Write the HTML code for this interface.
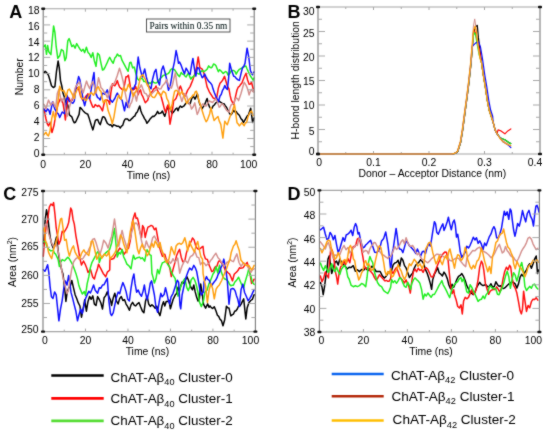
<!DOCTYPE html>
<html><head><meta charset="utf-8"><style>
html,body{margin:0;padding:0;background:#fff;}
body{width:550px;height:434px;overflow:hidden;font-family:"Liberation Sans", sans-serif;}
svg{display:block;}
</style></head><body>
<svg width="550" height="434" viewBox="0 0 550 434" font-family='"Liberation Sans", sans-serif'><defs><filter id="bl" x="0" y="0" width="550" height="434" filterUnits="userSpaceOnUse" color-interpolation-filters="sRGB"><feConvolveMatrix order="3" kernelMatrix="1 2 1 2 20 2 1 2 1" edgeMode="duplicate"/></filter></defs><g filter="url(#bl)"><rect width="550" height="434" fill="#fff"/><polyline points="43.9,73.0 45.2,71.3 46.8,72.9 48.5,75.4 50.1,80.7 51.5,85.7 53.3,87.5 54.9,86.6 56.5,71.3 58.1,61.0 59.3,67.9 60.5,80.6 61.8,86.0 63.0,93.0 64.2,96.7 65.4,101.9 67.8,105.0 69.4,114.9 71.8,116.8 73.0,120.3 74.3,122.8 75.5,122.3 76.7,119.7 79.1,114.4 80.0,107.4 81.6,108.9 83.2,110.9 84.8,112.6 86.5,113.7 87.7,113.9 88.9,117.4 91.3,125.2 92.9,129.9 95.3,120.7 96.5,119.7 97.7,119.5 99.0,122.9 100.2,124.7 102.6,117.0 103.8,116.8 105.0,118.1 106.2,120.9 107.4,123.5 109.8,125.1 111.0,124.8 112.3,126.8 113.5,124.7 114.7,125.1 117.1,126.2 118.7,126.3 120.3,127.9 121.5,126.1 122.7,125.4 124.0,121.2 125.2,119.0 127.6,119.1 128.8,120.4 130.0,120.6 131.2,119.2 132.4,118.2 133.6,116.6 134.8,116.1 136.1,113.1 137.3,112.0 139.7,106.0 140.9,111.0 142.1,114.0 143.3,116.2 144.5,118.6 145.7,120.2 146.9,123.3 148.6,121.3 150.3,118.7 152.7,116.2 153.9,116.6 155.2,115.2 156.4,113.7 157.6,111.3 158.8,113.6 160.0,113.3 161.2,112.8 162.4,111.0 163.6,114.0 164.8,116.3 166.1,111.6 167.3,108.3 169.7,107.7 170.9,110.4 172.1,113.5 173.3,112.3 174.5,110.6 175.7,108.8 176.9,108.0 178.0,110.7 179.2,107.6 180.4,106.0 181.6,107.2 182.8,106.7 184.1,105.9 185.3,104.0 187.7,101.6 188.9,103.5 190.1,104.0 191.3,99.7 192.5,97.0 193.8,96.9 195.0,99.1 196.2,96.7 197.4,93.9 198.6,99.7 199.8,104.2 202.2,108.6 203.4,106.5 204.7,104.6 205.9,101.4 207.1,98.5 208.3,103.4 209.5,106.9 210.7,108.5 211.9,108.5 213.1,105.9 214.3,105.0 215.6,103.1 216.8,102.2 219.2,101.1 220.4,102.2 221.6,102.9 222.8,104.0 224.0,103.7 225.2,105.7 226.5,107.2 227.7,109.9 228.9,112.4 230.1,114.2 231.3,114.6 233.7,110.4 234.9,111.9 236.2,111.4 237.4,113.6 238.6,114.3 239.8,116.2 241.0,118.7 242.2,119.9 243.4,122.5 244.7,120.4 245.9,118.3 247.1,116.2 248.3,115.2 250.7,108.3 252.6,122.4 254.0,118.0" fill="none" stroke="#000" stroke-width="1.5" stroke-linejoin="round" stroke-linecap="round" opacity="1"/><polyline points="43.9,109.0 46.0,119.0 47.2,123.6 48.5,125.9 50.1,122.2 52.0,132.6 54.1,125.0 55.7,114.9 58.1,103.9 60.5,98.5 61.8,100.6 63.0,103.3 64.2,110.6 65.4,119.9 67.0,104.8 68.6,97.6 69.8,99.9 71.0,101.8 72.2,100.0 73.5,95.6 74.7,92.7 75.9,88.7 78.3,87.3 79.5,92.1 80.7,96.7 83.1,100.7 84.3,99.0 85.5,96.8 86.8,95.3 88.0,93.8 89.2,97.2 90.4,101.1 92.8,107.1 94.0,107.2 95.2,104.6 97.6,106.5 98.8,105.4 100.1,106.7 101.3,108.7 102.5,110.9 103.7,105.2 104.9,100.2 107.3,100.0 108.5,101.1 109.7,104.3 110.8,93.1 112.4,83.8 114.8,85.8 116.0,83.9 117.3,80.6 118.5,84.4 119.7,87.2 122.1,89.4 123.5,89.6 124.8,83.7 126.0,76.7 127.2,76.8 128.4,75.2 129.6,82.2 130.8,89.6 133.2,89.9 134.4,89.1 135.6,86.5 136.8,89.9 138.1,94.8 139.3,91.4 140.5,89.9 141.7,94.7 142.9,96.7 144.1,99.7 145.3,102.7 147.7,100.3 148.7,96.8 149.9,94.7 151.1,92.3 152.3,91.8 153.5,89.0 154.8,88.3 156.0,86.0 157.2,89.9 158.4,92.3 159.6,93.7 160.8,95.3 163.2,104.3 164.4,109.1 165.6,112.6 166.8,107.6 168.1,104.7 170.0,124.2 172.1,112.9 173.7,100.4 174.9,99.9 176.1,98.2 178.0,93.0 179.2,88.9 180.4,86.0 181.6,89.2 182.8,93.9 184.1,94.0 185.3,95.9 187.7,90.1 188.9,88.4 190.1,86.6 191.3,83.6 192.5,80.7 194.5,74.8 196.6,67.5 198.2,56.9 199.8,67.5 202.2,69.1 203.8,72.9 205.5,79.4 207.1,86.9 208.3,89.5 209.5,92.1 210.7,94.0 211.9,95.8 213.1,97.9 214.3,98.7 215.6,98.3 216.8,97.1 218.4,87.9 220.0,83.3 221.2,81.9 222.4,80.6 224.5,76.3 226.5,83.2 227.7,86.9 228.9,88.7 230.1,95.4 231.3,100.2 233.7,104.6 235.4,97.2 237.0,90.0 238.2,87.2 239.4,86.3 240.6,84.3 241.8,83.3 244.0,77.5 246.0,73.2 247.6,80.0 249.1,84.3 250.3,84.1 251.5,82.2 253.5,90.0" fill="none" stroke="#ff1010" stroke-width="1.5" stroke-linejoin="round" stroke-linecap="round" opacity="1"/><polyline points="43.9,46.5 45.2,44.9 46.5,54.3 47.6,45.4 48.8,51.8 50.9,54.6 52.5,37.8 53.6,25.9 54.9,32.3 56.2,46.7 57.8,58.3 59.7,55.7 61.4,49.5 63.3,50.8 64.9,60.7 66.2,57.6 67.8,40.9 69.1,38.6 70.2,41.6 71.8,46.6 73.5,45.1 75.1,48.2 76.7,43.6 78.3,46.4 79.9,49.0 81.5,51.1 83.1,49.3 84.7,52.6 86.4,47.2 88.0,52.4 89.6,54.1 91.2,57.5 92.8,52.7 94.4,61.0 96.0,66.4 97.6,53.2 99.3,55.0 100.9,62.9 102.5,70.0 103.7,69.5 104.9,67.5 107.3,62.4 108.5,59.5 109.7,57.3 111.6,61.0 113.2,63.2 114.8,58.1 116.0,56.8 117.3,54.1 118.9,56.0 120.5,55.6 122.1,60.4 123.7,63.3 126.1,67.9 128.1,71.3 129.7,62.7 131.0,62.3 132.6,67.9 134.2,67.0 135.8,73.2 137.4,78.7 139.0,80.1 140.2,78.4 141.5,78.6 142.7,78.9 143.9,81.6 145.5,81.4 147.1,83.7 148.7,82.6 150.3,83.5 152.7,81.1 153.9,82.6 155.2,82.9 156.8,82.7 158.4,80.7 160.0,78.7 161.6,77.3 163.2,75.4 164.8,75.1 166.4,74.3 168.1,73.6 169.3,72.4 170.5,69.9 171.7,68.9 172.9,69.3 174.5,69.6 175.7,71.5 176.9,73.3 178.0,75.1 179.6,76.6 181.2,72.4 182.4,74.1 183.7,74.4 184.9,76.0 186.1,77.0 187.3,74.8 188.5,73.1 189.7,76.7 190.9,79.1 192.1,77.2 193.3,76.8 194.6,75.1 195.8,73.2 197.4,73.3 199.0,74.2 200.6,71.9 202.2,70.6 203.8,71.6 205.5,70.6 207.1,69.2 208.7,65.9 209.9,67.3 211.1,67.8 212.3,66.8 213.5,64.1 214.8,64.4 216.0,65.8 217.2,68.9 218.4,71.7 219.6,69.7 220.8,70.8 223.2,73.5 224.4,72.4 225.7,71.5 226.9,72.4 228.1,75.3 229.7,73.6 231.3,70.5 233.7,70.5 234.9,71.3 236.2,74.1 237.8,71.2 239.4,69.3 241.0,68.5 242.6,68.0 244.2,66.6 245.9,66.0 247.1,69.0 248.3,71.6 250.7,76.5 251.9,78.1 253.1,80.2 254.0,78.0" fill="none" stroke="#22ee22" stroke-width="1.5" stroke-linejoin="round" stroke-linecap="round" opacity="1"/><polyline points="43.9,109.0 46.0,111.6 47.6,109.0 48.9,110.3 50.1,114.3 52.5,101.9 54.9,109.2 57.3,113.2 58.5,114.2 59.7,117.5 61.0,114.7 62.2,112.0 64.6,113.7 65.8,104.4 67.0,95.3 68.2,99.4 69.4,101.3 71.8,102.7 73.0,103.2 74.3,101.2 75.9,88.4 77.5,81.8 78.6,76.6 79.9,79.8 81.5,89.0 83.1,99.8 84.7,105.7 86.0,100.2 87.2,95.6 89.6,98.7 91.2,89.7 92.8,78.6 94.0,72.5 95.2,91.6 97.6,97.6 98.8,98.1 100.1,100.0 101.3,96.5 102.5,93.2 103.7,93.4 104.9,94.3 107.3,89.9 108.5,94.1 109.7,99.1 111.0,100.6 112.4,102.2 114.8,98.5 116.0,95.7 117.3,93.1 118.5,95.2 119.7,97.7 122.1,100.2 123.3,105.7 124.5,110.8 126.1,102.3 127.7,107.4 129.4,98.7 131.0,90.5 132.2,88.1 133.4,89.0 134.6,86.2 135.8,83.8 136.8,70.6 138.2,57.1 139.8,67.5 141.1,72.5 142.3,77.0 144.7,69.0 146.3,76.9 148.7,85.9 151.0,88.8 152.5,79.5 154.4,72.2 156.0,69.4 157.6,80.2 159.5,85.0 161.6,70.0 163.2,66.0 164.8,71.8 166.5,78.6 168.5,90.3 170.5,84.2 171.7,77.3 172.9,68.9 174.5,61.6 176.1,50.6 177.4,56.6 178.5,63.3 179.6,62.1 181.2,65.4 182.8,69.9 184.5,73.9 186.1,68.1 187.7,70.8 188.9,73.5 190.1,74.5 191.7,64.4 192.9,58.4 194.2,67.3 195.8,76.1 197.4,67.6 199.0,68.3 200.6,73.8 202.2,77.7 203.4,76.6 204.7,74.0 205.9,76.6 207.1,78.8 208.7,81.4 210.3,82.8 211.9,84.9 213.1,89.1 214.3,92.4 215.6,95.7 216.8,98.4 218.4,101.8 220.0,96.0 221.2,94.5 222.4,90.7 223.6,88.7 224.8,85.5 226.1,88.3 227.3,89.5 228.5,79.7 229.7,63.3 231.3,69.4 233.7,76.2 234.9,76.6 236.2,78.4 237.8,79.7 239.4,80.4 241.0,73.7 242.6,67.3 243.8,66.4 245.0,63.4 247.1,48.2 248.8,57.3 250.4,70.5 252.3,74.8 254.0,72.0" fill="none" stroke="#1010ff" stroke-width="1.5" stroke-linejoin="round" stroke-linecap="round" opacity="1"/><polyline points="43.9,104.2 46.0,108.9 47.2,104.3 48.5,100.1 50.9,105.1 53.3,101.9 54.5,105.9 55.7,107.5 57.3,93.6 58.9,89.3 60.1,95.2 61.4,101.7 63.8,97.5 65.4,109.1 67.0,116.6 68.2,112.3 69.4,107.4 71.0,101.6 72.2,98.5 73.5,96.6 75.1,88.2 76.3,85.6 77.5,84.3 78.7,82.8 79.9,82.2 80.0,83.7 81.6,89.1 83.2,92.9 84.8,87.0 86.5,81.1 88.1,85.4 89.7,88.7 91.3,84.2 92.9,81.7 94.5,86.6 96.1,93.2 97.3,85.5 98.5,77.8 99.8,82.4 101.0,87.8 102.6,89.3 104.2,92.0 105.8,94.3 107.4,97.7 109.0,93.1 110.6,86.6 112.2,84.8 113.9,83.9 115.5,80.5 117.1,76.0 118.3,72.2 119.5,68.2 120.7,72.0 121.9,76.4 123.2,81.8 124.4,89.2 126.8,100.6 129.2,107.8 130.4,104.2 131.6,102.3 132.8,98.1 134.0,92.6 135.2,95.7 136.5,101.0 137.7,94.3 138.9,88.7 140.1,87.2 141.3,84.8 142.9,89.1 144.5,93.1 146.1,93.7 147.7,96.6 148.0,97.1 149.6,94.8 151.2,94.4 152.8,92.6 154.5,91.0 156.1,89.8 157.7,87.7 159.3,89.0 160.9,88.8 162.5,85.7 164.1,84.0 165.3,82.5 166.5,79.4 167.8,82.9 169.0,86.5 170.2,87.4 171.4,88.1 172.6,84.5 173.8,78.9 175.4,72.6 177.0,85.0 178.2,88.5 179.5,94.0 180.7,97.4 181.9,101.6 183.1,97.6 184.3,93.6 186.7,96.1 187.9,100.4 189.1,103.5 190.3,105.0 191.5,109.1 193.2,106.8 194.8,102.9 197.2,114.4 198.4,112.0 199.6,108.2 201.2,105.9 202.8,103.9 204.4,105.5 206.1,106.1 207.7,103.4 209.3,100.8 210.9,101.8 212.5,102.5 214.1,100.7 215.7,98.8 217.4,102.1 219.2,107.2 220.4,106.3 221.6,103.7 222.8,104.1 224.0,106.0 225.2,108.0 226.5,110.1 227.7,111.2 228.9,112.2 230.1,107.3 231.3,104.6 233.7,103.4 234.9,100.2 236.2,97.9 237.4,98.6 238.6,100.6 239.8,97.1 241.0,93.5 242.6,87.7 244.2,82.3 245.4,84.2 246.7,86.6 247.9,89.9 249.1,94.9 250.3,91.4 251.5,89.5 252.8,91.6 254.0,92.0" fill="none" stroke="#d4918f" stroke-width="1.5" stroke-linejoin="round" stroke-linecap="round" opacity="1"/><polyline points="43.9,134.8 46.0,132.3 47.2,134.9 48.5,135.9 50.1,130.8 51.7,118.6 53.3,111.6 54.9,119.5 56.5,113.2 58.1,100.3 59.7,86.2 61.4,90.7 63.8,90.5 65.0,93.3 66.2,97.0 67.8,90.2 69.4,89.1 71.8,93.4 73.0,95.9 74.3,98.5 75.5,93.6 76.7,90.5 79.1,86.3 80.3,93.0 81.5,97.8 82.7,98.8 83.9,98.4 85.2,99.9 86.4,100.5 88.8,95.1 90.0,94.1 91.2,92.4 93.6,95.3 94.8,92.4 96.0,90.4 97.2,87.5 98.5,86.9 99.8,90.4 101.0,91.3 102.2,98.3 103.4,102.8 105.8,99.7 107.0,104.8 108.2,110.8 110.6,117.3 112.3,123.7 113.9,117.1 116.3,102.7 117.5,98.4 118.7,94.9 121.1,99.5 122.3,92.3 123.5,87.5 124.8,88.8 126.0,91.0 127.2,88.1 128.4,84.3 129.6,86.7 130.8,88.2 133.2,96.4 134.4,93.8 135.6,91.7 136.8,89.9 138.1,87.8 139.3,82.5 140.5,76.6 141.7,75.6 142.9,74.7 144.1,77.3 145.3,79.2 147.7,86.1 148.0,84.7 149.6,90.4 151.2,95.7 152.8,97.3 154.5,97.6 156.1,95.0 157.7,92.0 159.3,94.1 160.9,96.3 162.1,93.4 163.3,91.2 165.7,93.2 166.9,98.6 168.2,100.8 169.4,105.6 170.6,110.2 172.2,103.9 173.4,96.8 174.6,91.3 175.8,90.4 177.0,90.6 178.2,92.1 179.5,95.1 180.7,93.3 181.9,91.3 183.1,94.2 184.3,96.8 186.7,103.6 187.9,101.5 189.1,99.3 190.3,98.2 191.5,97.3 192.8,95.1 194.0,95.3 195.2,91.9 196.4,91.2 197.6,94.7 198.8,100.3 201.2,107.4 202.4,111.5 203.6,115.3 204.8,118.7 206.1,121.7 207.3,120.3 208.5,116.9 209.7,113.7 210.9,107.3 212.5,114.6 214.1,120.5 216.1,118.3 218.0,116.5 219.2,120.9 220.8,124.4 222.9,138.1 224.8,121.2 226.1,123.1 227.3,124.7 229.7,117.6 230.9,114.5 232.1,112.1 233.3,108.3 234.5,104.7 235.8,113.8 237.0,122.7 238.2,124.0 239.4,125.9 240.6,124.4 241.8,122.8 244.2,125.7 245.4,122.8 246.7,122.5 247.9,117.0 249.1,114.3 250.3,111.8 251.5,111.0 253.1,115.5" fill="none" stroke="#ffa010" stroke-width="1.5" stroke-linejoin="round" stroke-linecap="round" opacity="1"/><path d="M43.2,8.7V154.7M254.2,8.7V154.7" stroke="#7a7a7a" stroke-width="1.1" fill="none"/><path d="M43.2,8.7H254.2M43.2,154.7H254.2" stroke="#a4a4a4" stroke-width="1.1" fill="none"/><rect x="41.2" y="7.499999999999999" width="4" height="2.4" rx="0.8" fill="#111"/><rect x="252.2" y="7.499999999999999" width="4" height="2.4" rx="0.8" fill="#111"/><rect x="41.2" y="153.5" width="4" height="2.4" rx="0.8" fill="#111"/><rect x="252.2" y="153.5" width="4" height="2.4" rx="0.8" fill="#111"/><path d="M85.40,154.7v-3M85.40,8.7v3M127.60,154.7v-3M127.60,8.7v3M169.80,154.7v-3M169.80,8.7v3M212.00,154.7v-3M212.00,8.7v3M64.30,154.7v-2M64.30,8.7v2M106.50,154.7v-2M106.50,8.7v2M148.70,154.7v-2M148.70,8.7v2M190.90,154.7v-2M190.90,8.7v2M233.10,154.7v-2M233.10,8.7v2M43.2,138.48h7M254.2,138.48h-7M43.2,122.26h7M254.2,122.26h-7M43.2,106.03h7M254.2,106.03h-7M43.2,89.81h7M254.2,89.81h-7M43.2,73.59h7M254.2,73.59h-7M43.2,57.37h7M254.2,57.37h-7M43.2,41.14h7M254.2,41.14h-7M43.2,24.92h7M254.2,24.92h-7M43.2,146.59h4M254.2,146.59h-4M43.2,130.37h4M254.2,130.37h-4M43.2,114.14h4M254.2,114.14h-4M43.2,97.92h4M254.2,97.92h-4M43.2,81.70h4M254.2,81.70h-4M43.2,65.48h4M254.2,65.48h-4M43.2,49.26h4M254.2,49.26h-4M43.2,33.03h4M254.2,33.03h-4M43.2,16.81h4M254.2,16.81h-4" stroke="#a8a8a8" stroke-width="1" fill="none"/><text x="39.50" y="156.80" font-size="10.4" text-anchor="end" font-weight="normal" fill="#000" stroke="#000" stroke-width="0" >0</text><text x="39.50" y="140.90" font-size="10.4" text-anchor="end" font-weight="normal" fill="#000" stroke="#000" stroke-width="0" >2</text><text x="39.50" y="125.00" font-size="10.4" text-anchor="end" font-weight="normal" fill="#000" stroke="#000" stroke-width="0" >4</text><text x="39.50" y="109.10" font-size="10.4" text-anchor="end" font-weight="normal" fill="#000" stroke="#000" stroke-width="0" >6</text><text x="39.50" y="93.20" font-size="10.4" text-anchor="end" font-weight="normal" fill="#000" stroke="#000" stroke-width="0" >8</text><text x="39.50" y="77.30" font-size="10.4" text-anchor="end" font-weight="normal" fill="#000" stroke="#000" stroke-width="0" >10</text><text x="39.50" y="61.40" font-size="10.4" text-anchor="end" font-weight="normal" fill="#000" stroke="#000" stroke-width="0" >12</text><text x="39.50" y="45.50" font-size="10.4" text-anchor="end" font-weight="normal" fill="#000" stroke="#000" stroke-width="0" >14</text><text x="39.50" y="29.60" font-size="10.4" text-anchor="end" font-weight="normal" fill="#000" stroke="#000" stroke-width="0" >16</text><text x="39.50" y="13.70" font-size="10.4" text-anchor="end" font-weight="normal" fill="#000" stroke="#000" stroke-width="0" >18</text><text x="43.20" y="167.60" font-size="10.4" text-anchor="middle" font-weight="normal" fill="#000" stroke="#000" stroke-width="0" >0</text><text x="85.40" y="167.60" font-size="10.4" text-anchor="middle" font-weight="normal" fill="#000" stroke="#000" stroke-width="0" >20</text><text x="127.60" y="167.60" font-size="10.4" text-anchor="middle" font-weight="normal" fill="#000" stroke="#000" stroke-width="0" >40</text><text x="169.80" y="167.60" font-size="10.4" text-anchor="middle" font-weight="normal" fill="#000" stroke="#000" stroke-width="0" >60</text><text x="212.00" y="167.60" font-size="10.4" text-anchor="middle" font-weight="normal" fill="#000" stroke="#000" stroke-width="0" >80</text><text x="248.60" y="167.60" font-size="10.4" text-anchor="middle" font-weight="normal" fill="#000" stroke="#000" stroke-width="0" >100</text><text x="148.50" y="178.60" font-size="10.4" text-anchor="middle" font-weight="normal" fill="#000" stroke="#000" stroke-width="0" >Time (ns)</text><text x="23.30" y="76.70" font-size="10.4" text-anchor="middle" font-weight="normal" fill="#000" stroke="#000" stroke-width="0" transform="rotate(-90 23.3 76.7)">Number</text><text x="9.30" y="17.80" font-size="18" text-anchor="start" font-weight="bold" fill="#000" stroke="#000" stroke-width="0" >A</text><rect x="146.5" y="19" width="83.5" height="13" fill="#fff" stroke="#444" stroke-width="0.9"/><text x="0.00" y="0.00" font-size="20.8" text-anchor="middle" font-weight="normal" fill="#122" style="font-family:Liberation Serif,serif" stroke="#122" stroke-width="0.24" transform="translate(188.4 28.9) scale(0.45 0.5)">Pairs within 0.35 nm</text><path d="M318,7V154M540,7V154" stroke="#7a7a7a" stroke-width="1.1" fill="none"/><path d="M318,7H540M318,154H540" stroke="#a4a4a4" stroke-width="1.1" fill="none"/><rect x="316" y="5.8" width="4" height="2.4" rx="0.8" fill="#111"/><rect x="538" y="5.8" width="4" height="2.4" rx="0.8" fill="#111"/><rect x="316" y="152.8" width="4" height="2.4" rx="0.8" fill="#111"/><rect x="538" y="152.8" width="4" height="2.4" rx="0.8" fill="#111"/><path d="M373.50,154v-3M373.50,7v3M429.00,154v-3M429.00,7v3M484.50,154v-3M484.50,7v3M345.75,154v-2M345.75,7v2M401.25,154v-2M401.25,7v2M456.75,154v-2M456.75,7v2M512.25,154v-2M512.25,7v2M318,129.50h7M540,129.50h-7M318,105.00h7M540,105.00h-7M318,80.50h7M540,80.50h-7M318,56.00h7M540,56.00h-7M318,31.50h7M540,31.50h-7M318,141.75h4M540,141.75h-4M318,117.25h4M540,117.25h-4M318,92.75h4M540,92.75h-4M318,68.25h4M540,68.25h-4M318,43.75h4M540,43.75h-4M318,19.25h4M540,19.25h-4" stroke="#a8a8a8" stroke-width="1" fill="none"/><polyline points="318.0,154.0 452.0,154.0 455.0,153.4 457.8,151.5 460.8,141.7 462.7,129.9 464.8,114.2 466.9,98.5 468.9,82.8 470.9,64.8 472.4,47.0 473.4,33.0 475.5,27.0 477.3,25.3 478.4,37.4 480.0,50.3 481.6,63.2 483.3,75.0 485.3,86.8 487.3,100.5 489.2,110.3 491.2,116.2 493.1,122.1 495.1,129.9 497.1,133.8 500.0,137.7 502.9,139.0 504.9,139.7 508.8,142.6 510.8,143.6" fill="none" stroke="#000" stroke-width="1.2" stroke-linejoin="round" stroke-linecap="round" opacity="1"/><polyline points="318.0,154.0 452.0,154.0 455.0,153.4 457.8,151.5 460.8,141.7 462.7,129.9 464.8,114.2 466.9,98.5 468.9,82.8 470.9,64.8 472.4,47.0 473.4,34.0 474.5,31.0 475.5,33.0 476.8,39.0 478.4,45.0 480.0,53.0 481.6,63.2 483.3,75.0 485.3,86.8 487.3,100.5 489.2,110.3 491.2,116.2 493.1,122.1 495.1,129.9 497.1,133.8 498.0,129.9 501.0,130.9 504.9,133.8 507.8,130.9 510.8,128.9" fill="none" stroke="#ff1010" stroke-width="1.2" stroke-linejoin="round" stroke-linecap="round" opacity="1"/><polyline points="318.0,154.0 452.0,154.0 455.0,153.4 457.8,151.5 460.8,141.7 462.7,129.9 464.8,114.2 466.9,98.5 468.9,82.8 470.9,64.8 472.4,47.0 473.4,36.0 474.5,32.6 475.6,35.0 476.8,42.3 479.2,55.2 481.6,63.2 483.3,75.0 485.3,86.8 487.3,100.5 489.2,110.3 491.2,116.2 493.1,122.1 495.1,129.9 497.1,133.8 500.0,137.7 502.9,138.7 505.9,140.5 508.8,142.6 510.8,143.6" fill="none" stroke="#22ee22" stroke-width="1.2" stroke-linejoin="round" stroke-linecap="round" opacity="1"/><polyline points="318.0,154.0 451.7,154.0 454.7,153.4 457.5,151.5 460.5,141.7 462.4,129.9 464.5,114.2 466.6,98.5 468.6,82.8 470.6,64.8 472.1,47.0 473.0,45.7 475.8,42.9 478.6,42.0 480.4,46.6 482.3,57.6 483.1,63.2 484.8,75.0 486.8,86.8 488.8,100.5 490.7,110.3 492.7,116.2 493.1,122.1 495.1,129.9 497.1,133.8 500.0,137.7 502.9,141.7 505.9,143.6 508.8,145.6 510.8,147.5" fill="none" stroke="#1010ff" stroke-width="1.2" stroke-linejoin="round" stroke-linecap="round" opacity="1"/><polyline points="318.0,154.0 452.0,154.0 455.0,153.4 457.8,151.5 460.8,141.7 462.7,129.9 464.8,114.2 466.9,98.5 468.9,82.8 470.9,64.8 472.4,47.0 473.3,27.0 474.7,18.9 476.0,27.7 477.6,42.3 479.5,55.0 481.6,63.2 483.3,75.0 485.3,86.8 487.3,100.5 489.2,110.3 491.2,116.2 493.1,122.1 495.1,129.9 497.1,133.8 500.0,137.7 502.9,140.5 505.9,142.6 508.8,144.6 510.8,145.6" fill="none" stroke="#d4918f" stroke-width="1.0" stroke-linejoin="round" stroke-linecap="round" opacity="1"/><polyline points="318.0,154.0 451.5,154.0 454.5,153.4 457.3,151.5 460.3,141.7 462.2,129.9 464.3,114.2 466.4,98.5 468.4,82.8 470.4,64.8 471.9,47.0 473.3,31.0 475.0,26.1 476.5,32.0 477.6,42.3 480.0,58.4 481.6,63.2 483.3,75.0 485.3,86.8 487.3,100.5 489.2,110.3 491.2,116.2 493.1,122.1 495.1,129.9 497.1,133.8 500.0,138.5 502.9,141.7 505.9,143.6 508.8,145.0 510.8,145.6" fill="none" stroke="#ffa010" stroke-width="1.2" stroke-linejoin="round" stroke-linecap="round" opacity="1"/><rect x="316" y="152.8" width="4" height="2.4" rx="0.8" fill="#111"/><text x="314.50" y="14.80" font-size="10.4" text-anchor="end" font-weight="normal" fill="#000" stroke="#000" stroke-width="0" >30</text><text x="314.50" y="37.30" font-size="10.4" text-anchor="end" font-weight="normal" fill="#000" stroke="#000" stroke-width="0" >25</text><text x="314.50" y="61.30" font-size="10.4" text-anchor="end" font-weight="normal" fill="#000" stroke="#000" stroke-width="0" >20</text><text x="314.50" y="85.20" font-size="10.4" text-anchor="end" font-weight="normal" fill="#000" stroke="#000" stroke-width="0" >15</text><text x="314.50" y="109.20" font-size="10.4" text-anchor="end" font-weight="normal" fill="#000" stroke="#000" stroke-width="0" >10</text><text x="314.50" y="134.70" font-size="10.4" text-anchor="end" font-weight="normal" fill="#000" stroke="#000" stroke-width="0" >5</text><text x="314.50" y="155.00" font-size="10.4" text-anchor="end" font-weight="normal" fill="#000" stroke="#000" stroke-width="0" >0</text><text x="319.20" y="165.60" font-size="10.4" text-anchor="middle" font-weight="normal" fill="#000" stroke="#000" stroke-width="0" >0</text><text x="373.50" y="165.60" font-size="10.4" text-anchor="middle" font-weight="normal" fill="#000" stroke="#000" stroke-width="0" >0.1</text><text x="429.00" y="165.60" font-size="10.4" text-anchor="middle" font-weight="normal" fill="#000" stroke="#000" stroke-width="0" >0.2</text><text x="484.50" y="165.60" font-size="10.4" text-anchor="middle" font-weight="normal" fill="#000" stroke="#000" stroke-width="0" >0.3</text><text x="535.00" y="165.60" font-size="10.4" text-anchor="middle" font-weight="normal" fill="#000" stroke="#000" stroke-width="0" >0.4</text><text x="432.30" y="176.60" font-size="10.4" text-anchor="middle" font-weight="normal" fill="#000" stroke="#000" stroke-width="0" >Donor – Acceptor Distance (nm)</text><text x="298.60" y="80.30" font-size="10.4" text-anchor="middle" font-weight="normal" fill="#000" stroke="#000" stroke-width="0" transform="rotate(-90 298.6 80.3)">H-bond length distribution</text><text x="287.40" y="17.60" font-size="18" text-anchor="start" font-weight="bold" fill="#000" stroke="#000" stroke-width="0" >B</text><polyline points="43.6,243.4 45.2,219.7 46.5,209.8 47.6,215.1 48.8,226.3 50.1,236.8 51.7,244.2 53.3,248.1 54.9,242.9 56.5,236.9 58.1,250.6 59.3,259.4 60.5,264.0 61.8,270.5 63.0,274.3 64.6,287.3 65.9,301.5 67.0,293.4 68.6,288.1 70.2,286.4 71.8,280.5 73.5,287.8 75.1,294.7 76.7,298.5 78.3,302.9 79.9,306.0 81.5,317.2 83.1,309.1 84.7,299.8 86.4,311.2 88.0,301.4 89.6,296.4 91.2,299.3 92.8,295.9 94.4,304.1 96.0,305.5 97.6,296.6 99.3,299.5 100.9,303.0 102.5,309.0 104.1,297.7 105.7,295.6 107.3,291.9 108.9,296.7 110.5,300.0 111.6,305.4 113.2,298.0 114.8,293.2 116.5,301.0 118.1,304.0 119.7,298.4 121.3,296.6 122.9,300.5 124.5,299.6 126.1,304.1 127.7,306.7 129.4,310.3 131.0,304.9 132.6,302.3 134.2,305.2 135.8,305.9 137.4,303.8 139.0,302.6 140.6,306.8 142.3,310.9 143.9,312.8 145.5,301.3 147.1,296.2 148.7,304.0 150.3,306.4 151.9,304.8 153.5,306.1 155.2,308.3 156.8,306.2 158.4,312.1 160.0,315.6 162.1,305.5 163.5,301.8 164.8,305.9 166.2,301.5 167.6,301.6 169.0,300.2 170.4,308.8 171.7,304.2 173.1,299.5 175.2,295.1 176.6,293.4 178.0,287.3 179.3,290.8 180.7,286.3 182.1,282.0 184.2,283.4 185.6,279.8 186.9,276.7 188.3,279.8 189.7,284.2 191.1,287.8 192.5,289.8 193.8,285.0 195.2,291.9 196.6,297.1 198.0,301.0 199.4,298.9 200.7,284.1 202.1,292.4 203.5,304.2 205.6,308.2 207.7,303.9 209.0,307.3 210.0,305.9 211.3,307.6 212.6,308.5 214.3,306.7 216.1,311.2 217.4,315.3 218.7,316.4 220.0,319.3 221.3,320.3 223.0,325.7 224.7,319.7 226.4,306.3 227.7,307.8 229.0,308.1 230.8,315.8 232.1,314.8 233.4,314.1 234.7,311.3 236.0,310.7 237.3,309.0 238.6,306.0 239.8,306.1 241.1,304.1 242.4,301.4 243.7,298.9 245.8,319.0 247.2,307.7 248.9,302.7 250.7,300.5 252.4,299.3 254.1,294.8" fill="none" stroke="#000" stroke-width="1.5" stroke-linejoin="round" stroke-linecap="round" opacity="1"/><polyline points="43.3,256.3 44.4,242.5 46.0,227.6 47.6,220.1 49.3,207.2 50.9,204.0 52.5,205.5 53.6,202.6 54.9,213.8 56.2,227.7 57.3,234.3 58.9,244.3 60.5,240.5 62.2,231.2 63.8,232.7 65.4,230.1 67.0,227.4 68.6,222.8 69.7,215.4 70.7,208.0 71.8,210.4 73.0,219.2 74.3,224.1 75.9,235.8 77.2,242.8 78.3,248.3 79.9,258.6 81.5,265.0 83.5,261.0 85.5,264.9 86.8,268.2 88.0,272.4 89.2,271.1 90.4,269.2 92.8,277.2 94.4,279.0 96.0,272.9 97.2,269.8 98.5,264.2 99.7,266.6 100.9,268.8 103.3,273.7 104.5,275.1 105.7,276.8 107.3,272.2 108.5,271.2 109.7,270.0 110.0,258.0 111.2,259.2 112.4,258.9 113.7,258.6 115.0,256.2 116.2,254.2 117.5,252.2 119.7,248.1 122.0,250.0 124.0,254.3 126.1,251.5 127.3,249.0 128.5,248.4 130.2,241.2 131.0,235.7 132.3,222.2 133.4,217.9 135.0,213.0 136.1,218.4 137.4,217.9 138.7,223.1 139.8,231.5 141.5,237.6 142.6,225.5 143.9,227.8 145.2,237.4 146.3,232.7 147.9,227.1 149.5,226.5 151.1,225.4 152.7,226.1 154.4,229.8 156.0,228.1 157.6,237.0 159.2,245.7 160.8,251.7 162.4,256.3 163.6,254.5 164.8,254.3 166.5,260.1 168.1,262.9 170.0,268.9 171.3,276.6 173.0,269.4 175.0,262.4 176.5,255.8 178.0,252.2 179.6,249.4 181.2,257.2 182.8,261.8 184.9,260.7 186.3,253.4 187.7,248.9 188.9,246.4 190.1,243.4 191.3,241.1 192.5,237.9 194.1,239.9 195.7,245.9 196.9,248.0 198.2,249.1 199.4,249.3 200.6,248.2 201.8,247.1 203.0,246.3 203.8,254.0 205.5,258.9 207.4,259.5 209.1,265.1 210.4,268.0 211.7,271.6 213.0,271.3 214.3,268.5 215.6,266.4 216.9,266.3 218.2,262.2 219.5,260.3 221.2,262.6 223.0,264.7 224.3,267.7 225.6,271.2 226.9,271.5 228.2,273.0 229.5,273.9 230.8,276.7 232.5,280.9 234.2,274.3 235.5,273.0 236.8,271.9 238.1,270.3 239.4,267.8 240.7,268.2 241.9,268.1 243.2,267.6 244.5,265.6 245.8,264.1 247.2,262.4 248.5,267.2 249.8,272.1 251.5,283.4 252.8,281.8 254.1,279.2" fill="none" stroke="#ff1010" stroke-width="1.5" stroke-linejoin="round" stroke-linecap="round" opacity="1"/><polyline points="43.6,241.8 45.2,241.1 46.8,246.2 48.5,249.2 50.9,250.9 53.3,250.2 54.5,253.2 55.7,254.2 58.1,259.4 59.4,266.6 60.5,262.5 62.2,259.6 64.6,260.8 66.2,258.9 67.8,257.3 69.0,258.4 70.2,260.4 72.6,264.6 74.3,269.0 75.9,273.4 77.5,278.9 78.7,284.7 79.9,288.4 82.3,294.0 84.3,291.5 85.5,295.3 87.2,283.7 88.8,276.9 90.4,267.5 92.0,262.3 94.0,258.6 96.0,254.9 97.2,252.3 98.5,251.2 99.3,262.6 101.0,257.4 102.5,257.0 104.0,254.9 105.5,253.1 107.0,251.7 108.3,250.9 109.7,249.2 111.6,243.0 113.2,234.8 114.5,228.4 115.6,240.8 117.3,257.1 118.9,252.5 120.5,253.9 122.1,249.5 123.7,257.0 125.3,260.2 126.9,264.1 129.0,265.8 131.0,268.8 132.2,261.3 133.4,255.3 135.0,259.2 136.6,258.0 138.2,257.5 139.6,257.1 140.9,258.7 142.3,257.8 144.7,261.1 145.9,254.8 147.1,249.8 148.7,252.6 149.9,254.8 151.1,255.4 151.9,273.3 153.2,277.9 154.4,283.1 156.0,278.6 157.6,269.4 159.2,273.7 160.8,267.1 162.4,262.8 163.7,262.4 165.0,261.3 166.5,262.0 168.0,264.9 169.5,266.6 171.0,271.1 173.1,275.4 175.2,278.7 176.6,288.6 178.0,296.2 179.3,292.2 180.7,286.4 182.8,282.0 184.9,278.5 186.9,287.8 188.3,290.6 189.7,287.0 191.1,280.0 193.1,277.4 194.5,279.6 195.9,283.4 198.0,292.3 199.4,301.9 201.4,306.6 203.5,300.8 204.9,292.2 207.0,290.3 209.0,283.6 210.3,281.1 211.7,277.5 213.0,274.0 214.3,272.3 216.1,266.8 217.8,273.0 219.5,265.3 221.3,271.7 223.0,276.7 224.3,278.7 225.6,279.3 226.9,279.9 228.2,281.4 229.5,284.3 230.8,285.8 232.1,285.3 233.4,285.2 234.7,282.2 236.0,280.9 237.3,279.2 238.6,277.2 239.8,280.2 241.1,283.3 242.4,286.0 243.7,287.7 245.0,282.3 246.3,278.0 247.6,273.6 248.9,268.3 250.7,275.7 252.4,282.2 254.1,284.4" fill="none" stroke="#22ee22" stroke-width="1.5" stroke-linejoin="round" stroke-linecap="round" opacity="1"/><polyline points="43.3,269.7 44.9,271.3 46.0,269.1 47.6,264.7 48.8,272.4 50.1,286.6 51.4,296.7 53.0,298.4 54.6,291.9 56.2,294.8 57.3,305.7 58.9,320.8 60.5,309.2 62.2,300.3 63.8,288.0 65.4,280.9 67.0,285.0 68.6,275.6 69.7,281.9 71.0,292.4 72.6,298.1 74.3,305.1 75.9,311.3 77.5,320.8 79.1,314.3 80.7,308.9 82.3,313.4 83.9,305.9 85.5,298.7 87.2,294.6 88.8,291.4 90.4,293.0 92.0,289.3 93.6,284.9 95.2,290.3 97.6,293.2 99.3,287.7 100.9,288.2 102.5,285.0 104.1,284.7 105.7,281.4 107.3,278.4 108.9,301.1 110.5,313.6 111.6,315.5 113.2,312.8 114.8,305.1 116.5,297.2 118.1,292.1 119.7,293.8 121.3,287.4 122.9,282.6 124.5,286.5 126.1,291.6 127.7,299.2 129.4,301.0 131.0,288.4 132.6,278.6 133.9,274.0 135.0,283.4 136.6,292.2 138.2,290.0 139.8,293.9 141.5,296.3 143.1,291.1 144.4,285.0 145.5,292.7 147.1,299.7 148.7,292.8 150.3,283.2 151.6,280.9 152.7,286.5 154.4,295.0 156.0,307.5 157.6,312.2 159.2,302.0 160.8,293.3 162.1,296.8 164.1,294.6 165.5,287.7 166.9,293.4 168.3,300.1 169.7,304.1 171.0,297.1 173.1,293.3 175.2,286.7 177.3,280.3 178.6,282.1 180.0,305.4 180.7,308.8 182.1,295.0 184.2,285.0 186.2,276.7 188.3,271.0 189.7,268.1 191.8,270.0 193.8,265.4 195.2,267.6 196.6,271.2 198.7,282.6 200.1,291.2 201.4,294.9 203.5,291.9 204.0,281.9 205.2,279.8 206.5,276.6 207.8,279.3 209.1,280.1 210.4,283.6 211.7,285.7 213.0,283.5 214.3,281.7 215.6,280.3 216.9,277.9 218.2,274.3 219.5,272.4 220.8,268.0 222.1,265.3 223.8,259.1 225.6,268.2 227.3,280.9 229.0,304.2 230.8,289.1 232.5,288.5 233.8,288.8 235.1,290.8 236.4,295.4 237.7,299.0 239.4,306.5 241.1,289.4 242.9,284.1 244.6,292.5 246.3,296.2 248.1,300.7 249.8,298.4 251.5,295.5 252.8,292.3 254.1,289.6" fill="none" stroke="#1010ff" stroke-width="1.5" stroke-linejoin="round" stroke-linecap="round" opacity="1"/><polyline points="43.6,233.7 45.2,224.4 46.8,224.1 48.5,233.1 50.1,238.5 51.7,243.1 54.1,247.7 56.5,243.6 58.5,252.8 60.5,262.9 61.8,270.8 63.0,277.8 64.2,282.1 65.4,287.1 67.0,293.5 68.6,289.9 70.2,278.4 71.8,268.7 73.5,262.0 74.8,260.0 76.0,258.5 77.5,257.8 79.0,256.4 80.5,258.4 82.0,259.2 83.5,257.7 85.0,255.2 86.5,253.1 88.0,251.6 89.2,248.4 90.5,246.7 92.5,239.5 94.4,238.6 96.0,242.5 98.0,249.4 100.0,254.4 102.0,247.6 103.7,240.2 106.0,243.3 108.1,248.1 110.0,241.1 111.6,236.4 113.2,227.4 114.5,219.1 115.6,226.6 117.3,240.6 118.9,246.2 120.5,237.6 122.1,230.4 123.7,237.4 125.3,242.5 126.9,248.1 128.5,243.0 130.2,238.8 131.8,231.7 133.4,227.7 135.0,223.1 136.6,223.2 138.2,225.9 139.8,231.9 141.5,240.8 143.1,247.1 144.7,247.8 146.3,241.0 147.9,245.3 149.5,248.0 151.1,244.1 152.7,237.8 154.4,236.0 156.0,239.2 157.6,241.2 159.2,244.5 160.8,248.4 162.4,252.7 164.0,256.3 165.6,259.6 166.8,260.1 168.1,260.3 169.3,261.5 170.5,263.3 171.7,261.7 172.9,258.7 174.1,260.7 175.3,261.9 177.7,258.1 179.7,273.2 181.0,269.0 182.3,265.3 183.6,262.6 184.9,260.4 186.3,261.4 187.7,263.0 190.0,257.3 191.2,256.0 192.5,255.5 193.7,253.5 194.9,251.1 197.0,257.1 198.8,257.6 200.5,264.7 201.8,262.8 203.0,262.7 204.5,263.3 206.0,265.7 207.5,264.2 209.0,263.4 210.5,260.6 212.0,259.0 213.9,255.9 215.9,253.2 218.0,257.7 219.5,259.2 221.0,261.6 222.5,263.5 224.0,266.5 225.5,264.9 227.0,262.0 228.4,262.3 229.9,259.4 231.7,260.8 233.4,261.7 235.2,257.4 236.9,253.9 239.0,262.5 241.0,266.4 242.3,264.5 243.7,262.8 245.4,264.4 247.2,265.0 248.9,269.2 250.7,272.6 252.4,270.0 254.1,268.8" fill="none" stroke="#d4918f" stroke-width="1.5" stroke-linejoin="round" stroke-linecap="round" opacity="1"/><polyline points="43.6,230.5 44.4,227.8 45.5,241.0 46.8,243.6 48.5,252.1 50.1,255.9 51.7,258.6 53.6,249.5 55.7,243.0 57.3,237.1 58.9,227.5 60.5,219.1 61.7,218.3 63.0,227.8 64.6,240.3 66.2,239.3 67.8,249.6 69.4,256.1 71.0,250.8 72.2,247.8 73.5,245.9 75.1,252.2 76.7,255.1 79.1,259.1 80.3,256.9 81.5,253.5 82.7,251.4 83.9,249.9 85.2,252.3 86.4,253.2 88.8,255.5 90.0,248.9 91.2,241.4 92.8,241.1 94.4,248.1 96.8,259.3 98.0,256.8 99.3,253.6 100.5,254.7 101.7,258.3 104.1,254.0 105.3,254.9 106.5,255.9 107.7,254.8 108.9,250.6 110.0,259.5 111.2,257.3 112.4,256.4 114.8,252.9 116.0,250.6 117.3,245.7 118.9,241.7 120.5,234.9 122.1,237.7 123.7,244.1 125.3,248.5 126.9,252.8 128.5,243.5 130.2,232.0 131.8,224.7 133.1,220.5 134.2,226.4 135.8,237.7 137.4,248.9 139.0,253.7 140.6,247.8 142.3,244.0 143.9,249.0 145.5,250.6 147.1,255.8 148.7,253.8 150.3,248.3 151.9,243.3 153.5,247.2 155.2,241.0 156.8,243.6 158.4,247.4 160.0,242.5 161.6,249.8 163.2,253.5 164.8,258.6 166.5,262.7 167.7,261.4 168.9,259.1 170.1,253.5 171.3,246.8 172.9,250.8 174.5,254.8 176.1,246.0 177.7,244.0 179.6,243.3 181.2,244.3 182.8,242.7 184.8,237.7 186.1,242.7 187.7,250.9 189.6,241.3 191.2,245.9 192.8,248.8 194.5,252.2 196.1,245.4 197.7,241.5 199.3,249.7 200.9,256.8 202.5,259.1 203.1,273.6 204.4,280.9 205.7,286.7 207.4,302.4 209.1,290.1 210.9,283.6 212.6,288.4 214.3,298.8 216.1,289.2 217.8,286.5 219.1,285.3 220.4,282.8 221.7,280.5 223.0,276.9 224.3,274.0 225.6,270.7 226.9,267.6 228.2,263.7 229.9,259.7 231.2,252.5 232.4,249.0 233.6,245.8 234.8,244.5 236.1,240.7 237.7,245.9 239.3,250.6 240.9,260.0 242.1,261.5 243.3,263.1 245.5,265.1 247.2,265.7 248.9,265.4 250.2,267.6 251.5,269.8 252.8,268.2 254.1,265.4" fill="none" stroke="#ffa010" stroke-width="1.5" stroke-linejoin="round" stroke-linecap="round" opacity="1"/><path d="M43,191V331.6M255.4,191V331.6" stroke="#7a7a7a" stroke-width="1.1" fill="none"/><path d="M43,191H255.4M43,331.6H255.4" stroke="#a4a4a4" stroke-width="1.1" fill="none"/><rect x="41" y="189.8" width="4" height="2.4" rx="0.8" fill="#111"/><rect x="253.4" y="189.8" width="4" height="2.4" rx="0.8" fill="#111"/><rect x="41" y="330.40000000000003" width="4" height="2.4" rx="0.8" fill="#111"/><rect x="253.4" y="330.40000000000003" width="4" height="2.4" rx="0.8" fill="#111"/><path d="M85.48,331.6v-3M85.48,191v3M127.96,331.6v-3M127.96,191v3M170.44,331.6v-3M170.44,191v3M212.92,331.6v-3M212.92,191v3M64.24,331.6v-2M64.24,191v2M106.72,331.6v-2M106.72,191v2M149.20,331.6v-2M149.20,191v2M191.68,331.6v-2M191.68,191v2M234.16,331.6v-2M234.16,191v2M43,303.48h7M255.4,303.48h-7M43,275.36h7M255.4,275.36h-7M43,247.24h7M255.4,247.24h-7M43,219.12h7M255.4,219.12h-7M43,317.54h4M255.4,317.54h-4M43,289.42h4M255.4,289.42h-4M43,261.30h4M255.4,261.30h-4M43,233.18h4M255.4,233.18h-4M43,205.06h4M255.4,205.06h-4" stroke="#a8a8a8" stroke-width="1" fill="none"/><text x="38.50" y="196.10" font-size="10.4" text-anchor="end" font-weight="normal" fill="#000" stroke="#000" stroke-width="0" >275</text><text x="38.50" y="223.30" font-size="10.4" text-anchor="end" font-weight="normal" fill="#000" stroke="#000" stroke-width="0" >270</text><text x="38.50" y="250.20" font-size="10.4" text-anchor="end" font-weight="normal" fill="#000" stroke="#000" stroke-width="0" >265</text><text x="38.50" y="278.70" font-size="10.4" text-anchor="end" font-weight="normal" fill="#000" stroke="#000" stroke-width="0" >260</text><text x="38.50" y="307.00" font-size="10.4" text-anchor="end" font-weight="normal" fill="#000" stroke="#000" stroke-width="0" >255</text><text x="38.50" y="333.20" font-size="10.4" text-anchor="end" font-weight="normal" fill="#000" stroke="#000" stroke-width="0" >250</text><text x="45.00" y="344.20" font-size="10.4" text-anchor="middle" font-weight="normal" fill="#000" stroke="#000" stroke-width="0" >0</text><text x="85.48" y="344.20" font-size="10.4" text-anchor="middle" font-weight="normal" fill="#000" stroke="#000" stroke-width="0" >20</text><text x="127.96" y="344.20" font-size="10.4" text-anchor="middle" font-weight="normal" fill="#000" stroke="#000" stroke-width="0" >40</text><text x="170.44" y="344.20" font-size="10.4" text-anchor="middle" font-weight="normal" fill="#000" stroke="#000" stroke-width="0" >60</text><text x="212.92" y="344.20" font-size="10.4" text-anchor="middle" font-weight="normal" fill="#000" stroke="#000" stroke-width="0" >80</text><text x="250.50" y="344.20" font-size="10.4" text-anchor="middle" font-weight="normal" fill="#000" stroke="#000" stroke-width="0" >100</text><text x="147.40" y="355.30" font-size="10.4" text-anchor="middle" font-weight="normal" fill="#000" stroke="#000" stroke-width="0" >Time (ns)</text><text x="16.00" y="262.00" font-size="10.4" text-anchor="middle" font-weight="normal" fill="#000" stroke="#000" stroke-width="0" transform="rotate(-90 16 262)">Area (nm<tspan font-size="7" dy="-4">2</tspan><tspan dy="4">)</tspan></text><text x="3.30" y="200.30" font-size="18" text-anchor="start" font-weight="bold" fill="#000" stroke="#000" stroke-width="0" >C</text><polyline points="320.4,282.4 322.0,287.0 323.2,294.7 324.5,286.8 325.7,277.4 326.9,269.8 328.0,259.1 329.3,255.9 330.6,265.5 331.7,273.4 333.3,268.5 334.9,262.3 336.5,261.1 338.2,265.0 339.8,258.9 341.4,262.2 343.0,264.1 345.0,266.0 347.1,269.0 349.1,267.3 351.2,267.4 353.3,265.7 355.4,271.2 357.4,269.8 359.5,271.6 361.6,269.4 363.6,270.4 365.7,267.7 367.8,270.6 369.9,268.9 371.9,266.2 374.0,267.9 376.1,271.5 378.1,271.5 380.2,271.5 382.3,275.9 384.4,278.0 386.4,276.0 388.5,272.2 390.6,271.5 391.6,270.5 393.2,264.7 394.8,263.0 396.5,262.4 398.1,260.2 399.7,266.3 401.3,258.0 402.9,260.2 404.5,265.6 406.1,267.9 407.7,272.6 409.4,277.6 411.0,275.1 412.6,273.3 414.2,268.3 415.8,265.0 417.4,263.5 419.0,262.1 420.6,259.7 422.3,261.6 423.9,264.2 425.5,269.6 427.1,273.0 428.7,277.7 430.3,283.4 431.6,289.3 432.7,279.9 434.4,274.2 436.0,271.3 437.6,267.6 439.2,273.0 440.8,274.2 442.4,275.9 444.0,272.1 445.6,274.5 447.3,278.6 448.9,285.0 450.5,288.8 452.1,284.3 453.7,287.3 455.3,283.5 456.9,279.3 458.5,276.4 460.2,275.4 461.8,273.6 463.6,276.7 465.2,280.5 466.8,285.7 468.5,288.9 470.1,292.1 471.7,293.3 473.3,294.6 474.9,292.5 476.5,287.7 478.1,284.9 479.7,282.4 481.4,284.7 483.0,285.6 484.6,285.0 486.2,284.9 487.8,286.9 489.4,286.1 491.0,283.8 492.6,287.4 494.3,286.4 495.9,281.8 497.5,284.7 499.1,286.3 500.7,285.8 502.3,288.2 503.9,288.4 505.5,287.3 507.2,285.5 508.8,284.0 510.4,283.0 512.0,281.6 513.6,282.6 515.2,283.9 516.8,288.1 518.5,283.9 520.1,277.2 521.7,274.4 523.3,276.3 524.9,272.2 526.5,270.0 528.1,266.0 529.7,263.8 531.4,268.3 533.0,263.9 534.6,259.0 536.2,256.0 537.5,273.5 538.5,270.0" fill="none" stroke="#000" stroke-width="1.5" stroke-linejoin="round" stroke-linecap="round" opacity="1"/><polyline points="320.4,276.0 322.0,281.7 323.6,278.4 325.3,271.9 326.9,275.0 328.5,277.9 329.5,261.4 330.9,247.6 332.5,251.2 334.1,260.4 335.5,272.2 336.5,276.4 337.7,284.1 339.0,274.2 340.6,267.0 342.2,265.1 343.8,260.5 345.4,264.9 347.0,261.2 347.8,258.4 349.8,262.8 351.9,251.1 353.3,246.5 354.7,246.9 356.0,244.0 357.4,238.9 358.8,238.2 360.2,241.8 361.6,249.8 363.0,257.7 364.3,265.6 365.7,268.6 368.0,267.9 370.0,270.8 371.4,272.3 372.8,273.9 374.5,277.6 376.1,280.0 377.7,278.2 379.5,274.7 380.9,276.6 382.3,278.1 383.7,279.6 385.1,280.9 386.5,280.4 387.8,281.3 389.2,281.2 390.6,278.7 391.6,271.2 393.2,273.5 394.8,269.7 396.5,267.5 398.1,271.8 399.7,276.6 401.3,278.7 402.9,280.8 404.5,282.9 406.1,279.9 407.7,284.0 409.0,287.0 410.3,293.1 411.8,281.2 413.4,271.9 415.0,269.0 416.6,271.8 418.2,268.2 419.8,270.4 421.5,269.6 423.1,272.4 424.7,268.8 426.3,267.7 427.9,269.6 429.5,273.0 431.1,276.8 432.7,277.1 434.4,273.7 436.0,269.2 437.6,265.0 439.2,261.3 441.0,256.9 443.2,253.6 444.8,252.1 446.5,252.3 448.1,260.3 449.5,274.7 450.5,284.6 452.1,293.6 453.7,289.8 454.5,294.9 456.1,299.7 457.7,306.5 459.4,307.9 461.0,304.8 462.3,314.0 463.6,301.0 465.2,297.4 466.8,298.8 468.5,297.4 470.1,293.6 471.7,289.9 473.3,294.2 474.9,292.8 476.5,288.1 478.1,279.6 479.7,267.2 481.4,261.1 482.6,263.5 483.8,270.2 485.4,283.6 487.0,288.7 488.6,294.3 490.2,291.2 491.8,290.0 493.5,289.2 495.1,289.5 496.7,286.9 498.3,289.4 499.9,292.0 501.5,287.8 503.1,278.7 504.7,271.5 506.4,267.2 508.0,269.8 509.6,265.3 510.7,267.0 512.0,277.2 513.6,285.3 515.2,288.1 516.8,292.8 518.5,301.6 520.1,310.8 521.4,313.9 522.5,309.1 523.6,291.2 524.9,300.3 526.5,311.4 528.1,305.4 529.7,307.8 531.4,301.7 533.0,299.2 534.6,299.5 536.2,297.7 537.8,300.2" fill="none" stroke="#ff1010" stroke-width="1.5" stroke-linejoin="round" stroke-linecap="round" opacity="1"/><polyline points="320.4,263.1 322.0,267.1 323.6,270.4 325.3,265.7 326.9,269.6 328.5,272.3 330.1,267.8 331.7,263.8 333.3,269.1 334.9,271.7 336.5,267.1 338.2,271.4 339.8,274.5 341.4,269.4 343.0,267.0 344.6,265.2 346.2,268.7 347.8,276.8 349.1,279.0 351.2,285.4 353.3,286.7 355.4,285.8 357.4,286.6 359.5,285.6 361.6,283.5 363.6,284.4 365.7,286.8 367.1,277.2 368.5,262.3 369.9,256.4 371.2,259.8 372.6,262.3 374.0,270.1 375.4,275.5 377.5,282.5 379.5,285.5 381.6,286.6 383.7,290.6 385.7,292.1 387.8,293.5 389.2,290.9 390.6,287.4 391.6,279.5 393.2,282.6 394.8,280.7 396.5,283.3 398.1,280.9 399.7,277.7 401.3,278.9 402.9,282.9 404.5,286.4 406.1,287.3 407.7,282.2 409.4,285.6 410.6,289.4 411.8,283.6 413.4,279.9 415.0,277.9 416.6,279.6 418.2,281.0 419.8,283.1 421.5,289.2 423.1,299.2 424.7,294.0 426.3,296.0 427.9,293.0 429.5,295.2 431.1,297.3 432.7,294.6 434.4,294.5 436.0,291.5 437.6,288.4 439.2,285.1 440.8,282.7 441.9,280.6 443.2,284.8 444.8,287.7 446.5,290.9 448.1,294.5 449.7,297.6 451.3,291.2 452.9,287.1 454.5,284.3 456.1,282.8 457.7,281.6 459.4,278.6 461.0,277.6 462.0,281.6 463.6,278.6 465.2,284.7 466.8,291.9 468.5,293.0 470.1,284.7 471.7,287.1 473.3,290.8 474.9,294.0 476.5,297.6 478.1,301.4 479.7,299.8 481.4,299.3 483.0,296.0 484.6,298.7 486.2,294.6 487.8,292.6 489.4,286.5 491.0,286.3 492.6,288.5 494.3,288.2 495.9,289.2 497.5,294.2 499.1,294.7 500.7,290.8 502.3,287.6 503.9,282.2 505.5,276.1 507.2,271.2 508.8,276.7 510.4,288.3 512.0,279.8 513.6,272.7 515.2,275.2 516.8,281.1 518.5,275.3 520.1,267.3 521.7,262.4 523.3,270.5 524.9,286.5 526.5,290.5 528.1,288.3 529.7,286.4 531.4,288.1 533.0,284.7 534.6,284.1 536.2,287.2 537.8,288.9" fill="none" stroke="#22ee22" stroke-width="1.5" stroke-linejoin="round" stroke-linecap="round" opacity="1"/><polyline points="320.4,229.8 322.0,228.5 323.6,227.2 325.3,234.0 326.9,239.4 328.5,238.8 330.1,232.4 331.7,234.9 333.3,239.7 334.9,235.4 336.5,244.3 338.2,252.6 339.8,248.8 341.4,243.2 343.0,237.6 344.6,241.2 346.2,235.0 347.8,234.1 349.5,232.7 351.1,230.2 352.7,235.6 354.3,226.9 355.6,223.6 356.7,226.2 358.0,234.0 359.1,232.5 360.3,238.8 361.5,243.7 363.0,247.9 364.4,247.0 365.7,245.0 367.1,243.8 368.5,242.3 370.6,240.3 372.6,246.1 374.7,252.3 376.8,252.4 378.1,251.3 379.5,249.7 381.6,240.9 383.7,238.4 385.7,231.9 387.8,244.0 389.2,255.4 390.6,268.8 391.6,262.4 392.4,252.0 393.2,248.9 394.8,237.7 396.1,228.4 397.3,236.3 398.4,246.5 399.7,249.1 401.3,249.4 402.9,252.6 404.5,247.1 406.1,241.0 407.7,242.5 409.4,245.8 411.0,247.2 412.6,249.1 414.2,250.9 415.8,253.5 417.4,249.0 419.0,252.9 420.6,256.3 422.3,251.8 423.9,251.2 425.5,253.5 427.1,247.6 428.7,243.4 430.3,246.0 431.6,239.2 432.7,231.8 434.4,221.7 435.6,223.8 436.8,232.5 438.4,234.1 440.0,229.9 441.6,226.2 442.9,223.8 444.0,230.4 445.6,226.6 447.3,221.4 448.4,217.2 449.7,223.6 451.3,229.8 452.9,222.3 454.2,220.0 455.3,224.9 456.5,237.1 457.7,234.2 459.0,242.3 460.2,251.5 461.8,257.4 463.6,254.8 465.2,252.3 466.8,246.2 468.5,248.0 470.1,245.3 471.7,241.5 473.3,237.2 474.9,240.0 476.5,237.8 478.1,243.4 479.7,240.9 481.4,244.2 483.0,249.7 484.6,243.1 486.2,245.6 487.8,240.9 489.4,236.6 491.0,233.9 492.6,229.0 493.9,226.7 495.1,229.1 496.7,237.8 498.3,237.9 499.9,233.7 501.5,228.1 503.1,218.1 504.3,211.2 505.5,215.3 507.2,211.9 508.8,219.3 510.1,209.0 511.2,210.9 512.3,220.1 513.6,230.0 514.9,236.2 516.0,231.9 517.6,223.5 519.3,226.1 520.9,219.6 522.5,210.6 524.1,216.7 525.7,221.9 527.3,213.5 529.0,210.4 530.5,216.2 532.2,219.7 533.5,226.0 534.6,215.3 535.9,206.1 537.0,205.3 538.1,208.2 539.0,212.0" fill="none" stroke="#1010ff" stroke-width="1.5" stroke-linejoin="round" stroke-linecap="round" opacity="1"/><polyline points="320.4,241.9 322.0,244.0 323.6,246.1 325.3,249.0 326.9,244.5 328.5,242.6 330.1,248.4 331.7,253.5 333.3,258.4 334.9,254.8 336.5,255.9 338.2,253.3 339.8,254.7 342.0,249.0 344.0,245.5 346.0,249.8 348.0,247.5 350.0,252.9 352.0,250.0 354.0,247.1 355.9,244.9 357.4,245.4 359.0,238.6 360.2,238.7 361.6,243.5 363.0,252.6 364.4,251.1 365.7,250.5 367.1,251.1 368.5,253.8 369.9,248.8 371.2,246.4 372.6,244.8 374.0,242.5 375.4,242.7 376.8,245.7 378.1,248.1 379.5,251.2 380.9,252.9 382.3,255.2 383.7,255.1 385.1,256.5 386.5,257.3 387.8,258.5 389.2,256.5 390.6,256.5 392.7,252.3 394.8,246.5 396.5,249.5 398.1,247.7 399.7,244.6 401.3,241.4 402.9,239.9 404.5,243.9 406.1,237.8 407.7,242.0 409.4,245.8 411.0,246.3 412.6,245.5 414.2,247.9 415.8,252.4 417.4,254.8 419.0,252.9 420.6,257.3 422.3,259.7 423.9,259.8 425.5,261.4 427.8,262.8 430.0,260.6 432.0,258.3 434.0,256.7 435.2,255.5 436.5,254.2 437.8,254.2 439.0,254.7 441.0,254.6 443.0,256.3 445.0,257.6 447.3,256.5 449.6,260.3 451.9,260.9 454.2,259.2 456.5,258.0 458.8,258.5 461.1,261.7 463.4,264.6 465.7,266.6 466.9,258.1 468.0,256.4 470.3,253.8 472.6,250.6 475.0,250.7 477.3,248.4 479.6,247.1 481.9,250.6 484.2,251.7 486.5,253.0 488.8,255.0 491.1,257.8 493.4,255.5 495.1,252.3 497.5,247.3 499.4,244.4 500.7,248.3 502.3,252.9 503.9,251.7 505.5,246.4 507.2,250.7 508.8,252.6 510.4,255.4 512.0,256.9 513.6,257.5 515.2,260.1 516.8,261.5 518.5,258.5 520.1,254.7 521.7,250.8 523.3,248.2 524.9,245.9 526.5,242.6 528.1,238.1 529.7,237.2 531.4,239.3 533.0,243.8 534.6,246.8 536.2,249.6 537.8,248.2" fill="none" stroke="#d4918f" stroke-width="1.5" stroke-linejoin="round" stroke-linecap="round" opacity="1"/><polyline points="320.4,248.4 322.0,252.7 323.6,249.2 325.3,246.3 326.9,241.8 328.5,240.1 330.1,241.2 331.7,250.4 333.3,253.8 334.9,259.1 336.5,257.7 338.2,252.6 339.8,257.1 341.4,265.4 343.0,261.2 345.0,259.6 346.4,263.3 347.8,256.2 349.1,247.7 350.5,245.5 351.9,249.3 353.3,258.7 354.7,260.7 356.0,269.0 357.4,274.2 358.8,280.0 360.2,277.2 361.6,272.8 363.0,270.3 364.3,262.6 365.7,260.7 367.1,265.3 368.5,263.6 369.9,266.4 371.2,270.3 372.6,269.8 374.0,267.8 375.4,260.7 376.8,254.7 378.1,248.3 379.5,245.7 380.9,247.6 382.3,254.8 383.7,262.6 385.1,271.8 386.4,275.4 387.8,271.4 389.2,273.9 390.6,268.6 391.6,277.1 393.2,276.1 394.8,272.5 396.5,269.9 398.1,264.5 399.7,268.5 401.3,271.2 402.9,276.2 404.5,279.4 406.1,276.0 407.7,269.6 409.4,263.7 411.0,265.6 412.6,262.7 414.2,259.3 416.0,261.4 418.0,266.4 420.0,263.9 422.3,268.8 423.9,264.3 425.5,249.4 427.1,246.4 428.7,242.9 430.3,242.3 431.6,246.8 432.7,252.2 434.4,258.5 436.0,263.9 437.6,260.8 439.2,255.7 440.8,261.5 442.4,264.6 444.0,259.2 445.6,255.8 447.3,259.5 448.9,250.9 450.0,249.0 451.3,254.8 452.9,261.2 454.5,268.2 456.1,259.6 457.7,254.7 459.4,255.6 461.0,260.3 462.0,259.6 463.6,256.7 465.2,247.3 466.5,251.4 467.6,259.2 468.9,263.0 470.1,266.7 471.7,269.0 473.3,265.2 474.9,268.3 477.0,261.1 478.4,259.9 479.7,256.6 481.4,247.7 483.0,253.9 484.6,261.1 486.2,266.4 487.8,271.8 489.5,266.4 491.0,273.5 492.6,256.3 494.3,250.6 495.9,242.5 497.5,240.9 499.1,236.3 500.7,234.0 502.3,233.1 503.6,228.9 504.7,234.4 506.4,242.2 508.0,247.3 509.6,248.8 511.2,253.1 512.8,256.6 513.6,263.6 515.2,268.8 517.0,261.4 519.0,266.0 521.0,268.2 523.3,272.5 524.9,276.8 526.5,272.7 528.1,267.0 529.7,265.0 531.4,263.6 533.0,260.2 535.0,262.0 537.0,259.9 538.5,262.0" fill="none" stroke="#ffa010" stroke-width="1.5" stroke-linejoin="round" stroke-linecap="round" opacity="1"/><path d="M319.4,190.4V332M539.4,190.4V332" stroke="#7a7a7a" stroke-width="1.1" fill="none"/><path d="M319.4,190.4H539.4M319.4,332H539.4" stroke="#a4a4a4" stroke-width="1.1" fill="none"/><rect x="317.4" y="189.20000000000002" width="4" height="2.4" rx="0.8" fill="#111"/><rect x="537.4" y="189.20000000000002" width="4" height="2.4" rx="0.8" fill="#111"/><rect x="317.4" y="330.8" width="4" height="2.4" rx="0.8" fill="#111"/><rect x="537.4" y="330.8" width="4" height="2.4" rx="0.8" fill="#111"/><path d="M363.40,332v-3M363.40,190.4v3M407.40,332v-3M407.40,190.4v3M451.40,332v-3M451.40,190.4v3M495.40,332v-3M495.40,190.4v3M341.40,332v-2M341.40,190.4v2M385.40,332v-2M385.40,190.4v2M429.40,332v-2M429.40,190.4v2M473.40,332v-2M473.40,190.4v2M517.40,332v-2M517.40,190.4v2M319.4,308.40h7M539.4,308.40h-7M319.4,284.80h7M539.4,284.80h-7M319.4,261.20h7M539.4,261.20h-7M319.4,237.60h7M539.4,237.60h-7M319.4,214.00h7M539.4,214.00h-7M319.4,320.20h4M539.4,320.20h-4M319.4,296.60h4M539.4,296.60h-4M319.4,273.00h4M539.4,273.00h-4M319.4,249.40h4M539.4,249.40h-4M319.4,225.80h4M539.4,225.80h-4M319.4,202.20h4M539.4,202.20h-4" stroke="#a8a8a8" stroke-width="1" fill="none"/><text x="315.30" y="335.90" font-size="10.4" text-anchor="end" font-weight="normal" fill="#000" stroke="#000" stroke-width="0" >38</text><text x="315.30" y="312.58" font-size="10.4" text-anchor="end" font-weight="normal" fill="#000" stroke="#000" stroke-width="0" >40</text><text x="315.30" y="289.26" font-size="10.4" text-anchor="end" font-weight="normal" fill="#000" stroke="#000" stroke-width="0" >42</text><text x="315.30" y="265.94" font-size="10.4" text-anchor="end" font-weight="normal" fill="#000" stroke="#000" stroke-width="0" >44</text><text x="315.30" y="242.62" font-size="10.4" text-anchor="end" font-weight="normal" fill="#000" stroke="#000" stroke-width="0" >46</text><text x="315.30" y="219.30" font-size="10.4" text-anchor="end" font-weight="normal" fill="#000" stroke="#000" stroke-width="0" >48</text><text x="315.30" y="195.98" font-size="10.4" text-anchor="end" font-weight="normal" fill="#000" stroke="#000" stroke-width="0" >50</text><text x="321.40" y="344.20" font-size="10.4" text-anchor="middle" font-weight="normal" fill="#000" stroke="#000" stroke-width="0" >0</text><text x="363.40" y="344.20" font-size="10.4" text-anchor="middle" font-weight="normal" fill="#000" stroke="#000" stroke-width="0" >20</text><text x="407.40" y="344.20" font-size="10.4" text-anchor="middle" font-weight="normal" fill="#000" stroke="#000" stroke-width="0" >40</text><text x="451.40" y="344.20" font-size="10.4" text-anchor="middle" font-weight="normal" fill="#000" stroke="#000" stroke-width="0" >60</text><text x="495.40" y="344.20" font-size="10.4" text-anchor="middle" font-weight="normal" fill="#000" stroke="#000" stroke-width="0" >80</text><text x="533.40" y="344.20" font-size="10.4" text-anchor="middle" font-weight="normal" fill="#000" stroke="#000" stroke-width="0" >100</text><text x="431.00" y="355.30" font-size="10.4" text-anchor="middle" font-weight="normal" fill="#000" stroke="#000" stroke-width="0" >Time (ns)</text><text x="296.00" y="262.50" font-size="10.4" text-anchor="middle" font-weight="normal" fill="#000" stroke="#000" stroke-width="0" transform="rotate(-90 296 262.5)">Area (nm<tspan font-size="7" dy="-4">2</tspan><tspan dy="4">)</tspan></text><text x="287.60" y="200.30" font-size="18" text-anchor="start" font-weight="bold" fill="#000" stroke="#000" stroke-width="0" >D</text><line x1="51.3" y1="375.5" x2="103.7" y2="375.5" stroke="#000" stroke-width="2.6"/><text x="0.00" y="0.00" font-size="12.6" text-anchor="start" font-weight="normal" fill="#000" stroke-width="0" transform="translate(110.6 381.5) scale(1.066 1)">ChAT-Aβ<tspan font-size="8.6" dy="3.6">40</tspan><tspan dy="-3.6"> Cluster-0</tspan></text><line x1="51.3" y1="398.4" x2="103.7" y2="398.4" stroke="#f00" stroke-width="2.6"/><text x="0.00" y="0.00" font-size="12.6" text-anchor="start" font-weight="normal" fill="#000" stroke-width="0" transform="translate(110.6 403.2) scale(1.066 1)">ChAT-Aβ<tspan font-size="8.6" dy="3.6">40</tspan><tspan dy="-3.6"> Cluster-1</tspan></text><line x1="51.3" y1="420.9" x2="103.7" y2="420.9" stroke="#55dd33" stroke-width="2.6"/><text x="0.00" y="0.00" font-size="12.6" text-anchor="start" font-weight="normal" fill="#000" stroke-width="0" transform="translate(110.6 425.3) scale(1.066 1)">ChAT-Aβ<tspan font-size="8.6" dy="3.6">40</tspan><tspan dy="-3.6"> Cluster-2</tspan></text><line x1="331.7" y1="374" x2="383.7" y2="374" stroke="#0a64f0" stroke-width="2.6"/><text x="0.00" y="0.00" font-size="12.6" text-anchor="start" font-weight="normal" fill="#000" stroke-width="0" transform="translate(390.9 379.7) scale(1.075 1)">ChAT-Aβ<tspan font-size="8.6" dy="3.6">42</tspan><tspan dy="-3.6"> Cluster-0</tspan></text><line x1="331.7" y1="396.2" x2="383.7" y2="396.2" stroke="#b4280a" stroke-width="2.6"/><text x="0.00" y="0.00" font-size="12.6" text-anchor="start" font-weight="normal" fill="#000" stroke-width="0" transform="translate(391.4 400.8) scale(1.075 1)">ChAT-Aβ<tspan font-size="8.6" dy="3.6">42</tspan><tspan dy="-3.6"> Cluster-1</tspan></text><line x1="331.7" y1="420.5" x2="383.7" y2="420.5" stroke="#ffbe00" stroke-width="2.6"/><text x="0.00" y="0.00" font-size="12.6" text-anchor="start" font-weight="normal" fill="#000" stroke-width="0" transform="translate(392.6 424.1) scale(1.075 1)">ChAT-Aβ<tspan font-size="8.6" dy="3.6">42</tspan><tspan dy="-3.6"> Cluster-2</tspan></text></g></svg>
</body></html>
